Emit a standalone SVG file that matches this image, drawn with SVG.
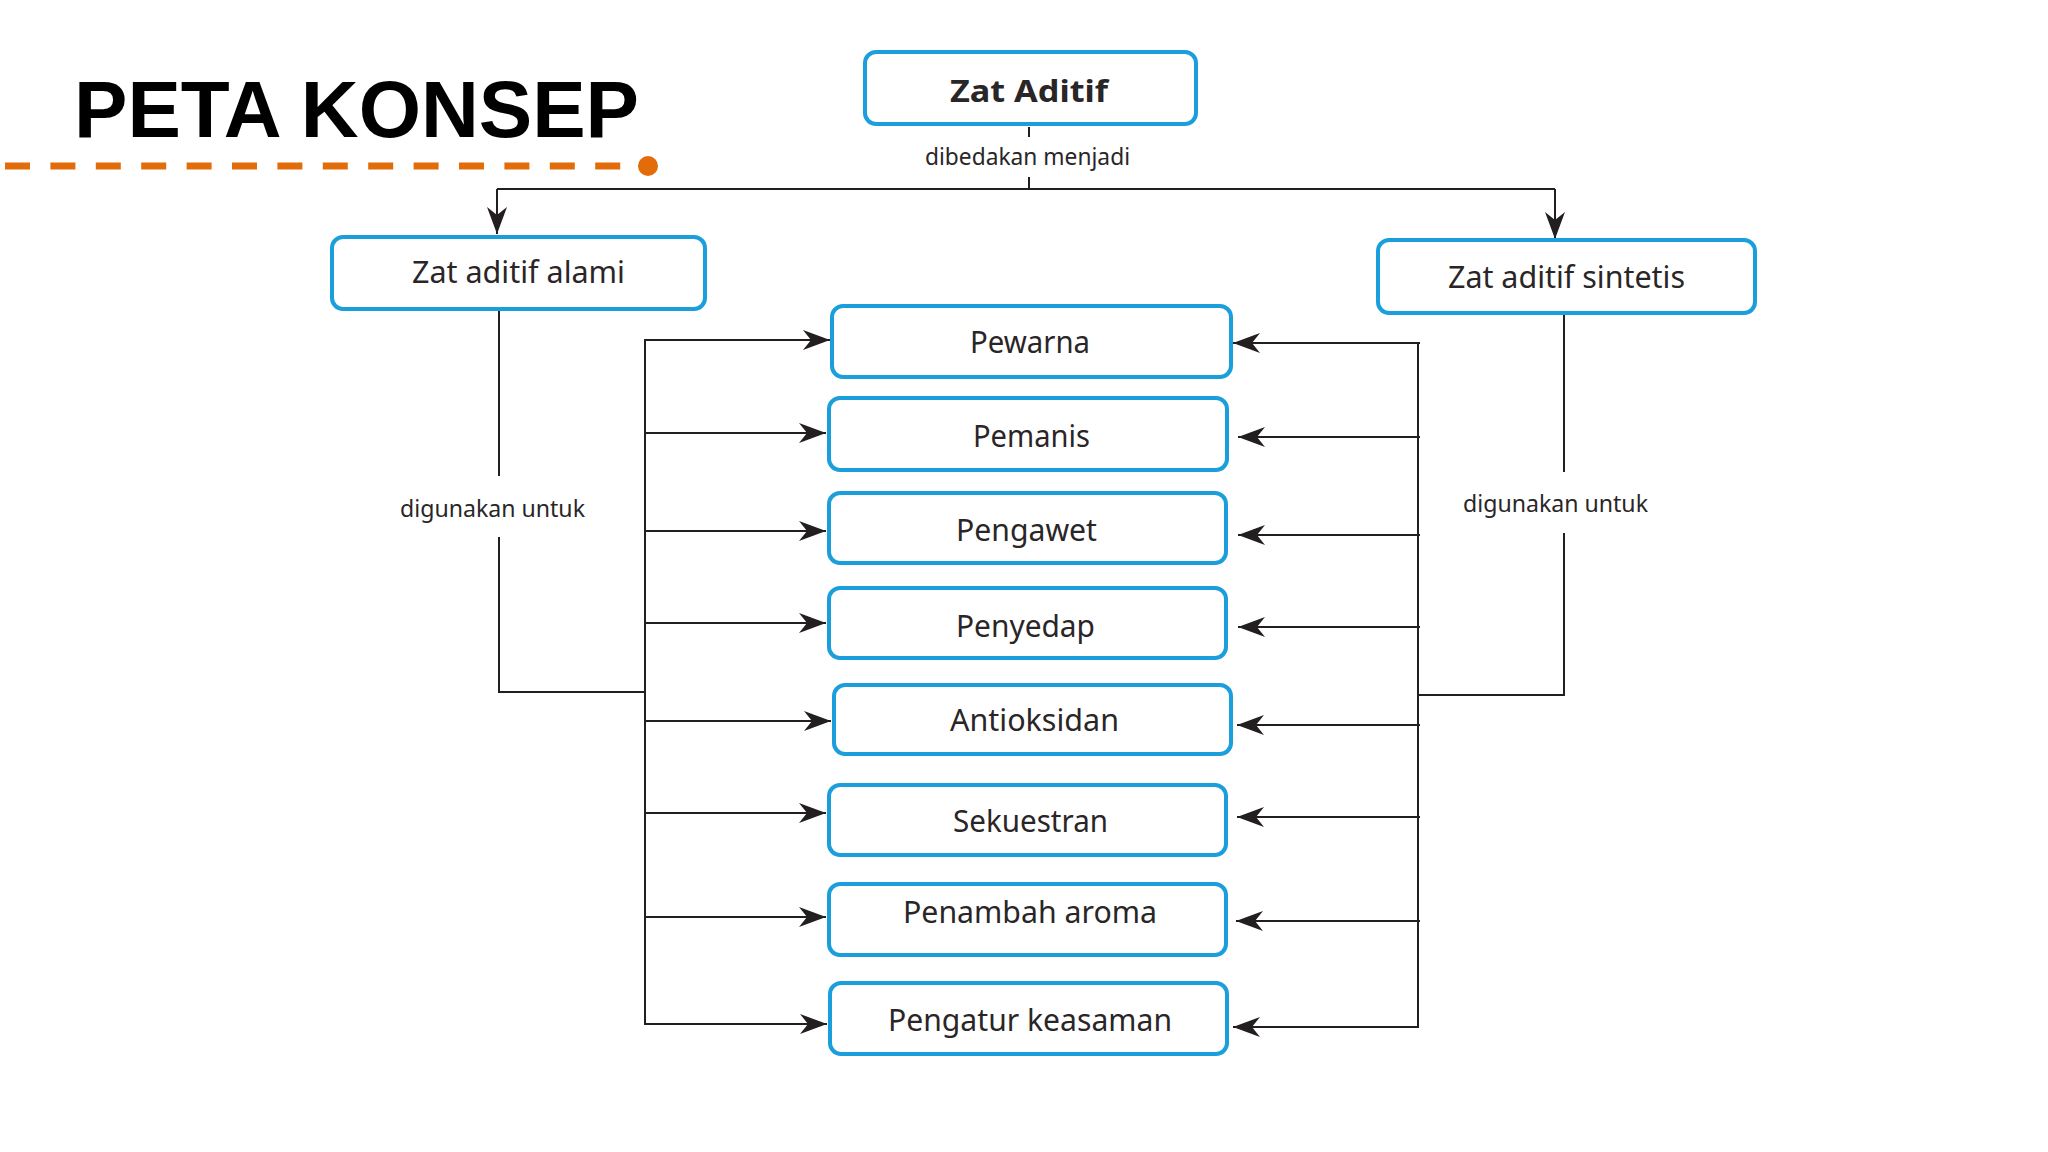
<svg xmlns="http://www.w3.org/2000/svg" width="2048" height="1152" viewBox="0 0 2048 1152">
<style>
.box{fill:#fff;stroke:#1a9fdc;stroke-width:4}
.t{font-family:"Noto Sans","Open Sans",sans-serif;font-size:30px;fill:#2a2627;text-anchor:middle}
.lbl{font-family:"Noto Sans","Open Sans",sans-serif;font-size:23px;fill:#2a2627;text-anchor:middle}
.ln{fill:none;stroke:#231f20;stroke-width:2}
.arr{fill:none;stroke:#231f20;stroke-width:2;marker-end:url(#ah)}
</style>
<defs>
<marker id="ah" markerUnits="userSpaceOnUse" markerWidth="28" markerHeight="22" viewBox="0 0 28 22" refX="27" refY="11" orient="auto">
<path d="M0,1 L27,11 L0,21 L8,11 Z" fill="#231f20"/>
</marker>
</defs>
<rect width="2048" height="1152" fill="#fff"/>
<g id="title">
<text x="74" y="137" font-family="'Liberation Sans',Arial,sans-serif" font-weight="bold" font-size="80" fill="#000" textLength="565" lengthAdjust="spacingAndGlyphs">PETA KONSEP</text>
<line x1="5" y1="166" x2="621" y2="166" stroke="#e36c0a" stroke-width="7" stroke-dasharray="25 20.4"/>
<circle cx="648" cy="166" r="10" fill="#e36c0a"/>
</g>
<g id="connectors">
<path class="ln" d="M1029,127 V137 M1029,177 V189"/>
<path class="ln" d="M497,189 H1555"/>
<path class="arr" d="M497,189 V234"/>
<path class="arr" d="M1555,189 V239"/>
<path class="ln" d="M499,311 V476 M499,537 V692 H645"/>
<path class="ln" d="M645,339 V1025"/>
<path class="arr" d="M645,340 H830"/>
<path class="arr" d="M645,433 H826"/>
<path class="arr" d="M645,531 H826"/>
<path class="arr" d="M645,623 H826"/>
<path class="arr" d="M645,721 H831"/>
<path class="arr" d="M645,813 H826"/>
<path class="arr" d="M645,917 H826"/>
<path class="arr" d="M645,1024 H827"/>
<path class="ln" d="M1564,313 V472 M1564,533 V695 H1418"/>
<path class="ln" d="M1418,343 V1028"/>
<path class="arr" d="M1420,343 H1233"/>
<path class="arr" d="M1420,437 H1238"/>
<path class="arr" d="M1420,535 H1238"/>
<path class="arr" d="M1420,627 H1238"/>
<path class="arr" d="M1420,725 H1237"/>
<path class="arr" d="M1420,817 H1237"/>
<path class="arr" d="M1420,921 H1236"/>
<path class="arr" d="M1418,1027 H1233"/>
<text class="lbl" x="1027.5" y="165" textLength="205" lengthAdjust="spacingAndGlyphs">dibedakan menjadi</text>
<text class="lbl" x="492.5" y="517" textLength="185" lengthAdjust="spacingAndGlyphs">digunakan untuk</text>
<text class="lbl" x="1555.5" y="512" textLength="185" lengthAdjust="spacingAndGlyphs">digunakan untuk</text>
</g>
<g id="zat-aditif">
<rect class="box" x="865" y="52" width="331" height="72" rx="11"/>
<text class="t" x="1029" y="102" font-weight="bold" font-size="35" textLength="158" lengthAdjust="spacingAndGlyphs">Zat Aditif</text>
</g>
<g id="zat-aditif-alami">
<rect class="box" x="332" y="237" width="373" height="72" rx="11"/>
<text class="t" x="518.5" y="283" textLength="213" lengthAdjust="spacingAndGlyphs">Zat aditif alami</text>
</g>
<g id="zat-aditif-sintetis">
<rect class="box" x="1378" y="240" width="377" height="73" rx="11"/>
<text class="t" x="1566.5" y="288" textLength="237" lengthAdjust="spacingAndGlyphs">Zat aditif sintetis</text>
</g>
<g id="pewarna">
<rect class="box" x="832" y="306" width="399" height="71" rx="11"/>
<text class="t" x="1030" y="353" textLength="120" lengthAdjust="spacingAndGlyphs">Pewarna</text>
</g>
<g id="pemanis">
<rect class="box" x="829" y="398" width="398" height="72" rx="11"/>
<text class="t" x="1031.5" y="447" textLength="117" lengthAdjust="spacingAndGlyphs">Pemanis</text>
</g>
<g id="pengawet">
<rect class="box" x="829" y="493" width="397" height="70" rx="11"/>
<text class="t" x="1026.5" y="541" textLength="141" lengthAdjust="spacingAndGlyphs">Pengawet</text>
</g>
<g id="penyedap">
<rect class="box" x="829" y="588" width="397" height="70" rx="11"/>
<text class="t" x="1025.5" y="637" textLength="139" lengthAdjust="spacingAndGlyphs">Penyedap</text>
</g>
<g id="antioksidan">
<rect class="box" x="834" y="685" width="397" height="69" rx="11"/>
<text class="t" x="1034.5" y="731" textLength="169" lengthAdjust="spacingAndGlyphs">Antioksidan</text>
</g>
<g id="sekuestran">
<rect class="box" x="829" y="785" width="397" height="70" rx="11"/>
<text class="t" x="1030.5" y="832" textLength="155" lengthAdjust="spacingAndGlyphs">Sekuestran</text>
</g>
<g id="penambah-aroma">
<rect class="box" x="829" y="884" width="397" height="71" rx="11"/>
<text class="t" x="1030" y="923" textLength="254" lengthAdjust="spacingAndGlyphs">Penambah aroma</text>
</g>
<g id="pengatur-keasaman">
<rect class="box" x="830" y="983" width="397" height="71" rx="11"/>
<text class="t" x="1030" y="1031" textLength="284" lengthAdjust="spacingAndGlyphs">Pengatur keasaman</text>
</g>
</svg>
